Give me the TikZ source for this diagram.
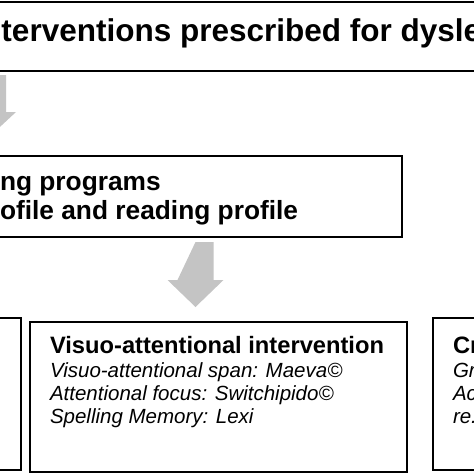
\documentclass[tikz,border=0pt]{standalone}
\usepackage{fontspec}
\setmainfont{Liberation Sans}
\definecolor{arrowgray}{RGB}{196,196,196}
\begin{document}
\begin{tikzpicture}[x=1pt,y=-1pt,
  box/.style={draw=black,line width=2pt},
  txt/.style={anchor=base west,inner sep=0pt,outer sep=0pt},
  bigbold/.style={font=\fontsize{31.5}{36}\selectfont\bfseries},
  midbold/.style={font=\fontsize{26.3}{30}\selectfont\bfseries},
  headbold/.style={font=\fontsize{23.7}{27}\selectfont\bfseries},
  itl/.style={font=\fontsize{20.5}{23}\selectfont\itshape},
  blockarrow/.style={fill=arrowgray,draw=none}]
\useasboundingbox (0,0) rectangle (474,474);
\clip (0,0) rectangle (474,474);
\fill[white] (0,0) rectangle (474,474);

% boxes
\draw[box] (-10,2) rectangle (484,71);
\node[txt,bigbold] (top) at (1.5,41) {terventions prescribed for dysle};

\draw[box] (-10,156) rectangle (402,237);
\node[txt,midbold] (p1) at (0,190) {ng programs};
\node[txt,midbold] (p2) at (0,219) {ofile and reading profile};

\draw[box] (-10,318) rectangle (20.5,470);

\draw[box] (30,322) rectangle (407,472);
\node[txt,headbold] (v0) at (50,353) {Visuo-attentional intervention};
\node[txt,itl] (v1) at (50,377) {Visuo-attentional span: Maeva©};
\node[txt,itl] (v2) at (50,400) {Attentional focus: Switchipido©};
\node[txt,itl] (v3) at (50,423) {Spelling Memory: Lexi};

\draw[box] (433,318) rectangle (484,470);
\node[txt,headbold] (c0) at (453,353) {Cr};
\node[txt,itl] (c1) at (453,377) {Gr};
\node[txt,itl] (c2) at (453,400) {Ac};
\node[txt,itl] (c3) at (453,423) {re.};

% block arrows
\coordinate (a1) at (-3,75);
\coordinate (a2) at (204.5,242);
\fill[blockarrow] (a1) ++(-9,0) -- ++(18,0) -- ++(0,37) -- ++(10,0) -- ++(-28,26) -- ++(-28,-26) -- ++(10,0) -- cycle;
\fill[blockarrow] (a2) ++(-9,0) -- ++(18,0) -- ++(0,38) -- ++(10,0) -- ++(-28,27) -- ++(-28,-27) -- ++(10,0) -- cycle;
\end{tikzpicture}
\end{document}
